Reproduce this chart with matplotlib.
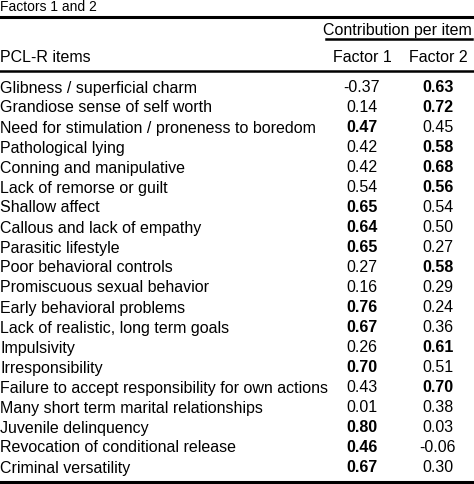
import matplotlib.pyplot as plt
from matplotlib import font_manager

items = [
    "Glibness / superficial charm",
    "Grandiose sense of self worth",
    "Need for stimulation / proneness to boredom",
    "Pathological lying",
    "Conning and manipulative",
    "Lack of remorse or guilt",
    "Shallow affect",
    "Callous and lack of empathy",
    "Parasitic lifestyle",
    "Poor behavioral controls",
    "Promiscuous sexual behavior",
    "Early behavioral problems",
    "Lack of realistic, long term goals",
    "Impulsivity",
    "Irresponsibility",
    "Failure to accept responsibility for own actions",
    "Many short term marital relationships",
    "Juvenile delinquency",
    "Revocation of conditional release",
    "Criminal versatility",
]
factor1 = ["-0.37", "0.14", "0.47", "0.42", "0.42", "0.54", "0.65", "0.64", "0.65", "0.27",
           "0.16", "0.76", "0.67", "0.26", "0.70", "0.43", "0.01", "0.80", "0.46", "0.67"]
factor2 = ["0.63", "0.72", "0.45", "0.58", "0.68", "0.56", "0.54", "0.50", "0.27", "0.58",
           "0.29", "0.24", "0.36", "0.61", "0.51", "0.70", "0.38", "0.03", "-0.06", "0.30"]
# which column is printed bold (0 = none)
bold_col = [2, 2, 1, 2, 2, 2, 1, 1, 1, 2, 0, 1, 1, 2, 1, 2, 0, 1, 1, 1]

names = {f.name for f in font_manager.fontManager.ttflist}
family = "Liberation Sans Narrow" if "Liberation Sans Narrow" in names else "Liberation Sans"
plt.rcParams['font.family'] = [family, 'DejaVu Sans']

fig = plt.figure(figsize=(4.74, 4.84), dpi=100)
ax = fig.add_axes([0, 0, 1, 1])
ax.set_xlim(0, 474)
ax.set_ylim(484, 0)
ax.axis('off')

fs = 11.5
ax.text(0, 7, "Factors 1 and 2", fontsize=10, va='center', ha='left')
ax.plot([0, 474], [17, 17], color='black', lw=2.2)
ax.text(472, 30, "Contribution per item", fontsize=fs, va='center', ha='right')
ax.plot([326, 472], [39, 39], color='black', lw=1.8)
ax.text(0, 57, "PCL-R items", fontsize=fs, va='center', ha='left')
ax.text(362, 57, "Factor 1", fontsize=fs, va='center', ha='center')
ax.text(438, 57, "Factor 2", fontsize=fs, va='center', ha='center')
ax.plot([0, 474], [71, 71], color='black', lw=1.8)

for i, name in enumerate(items):
    y = 88 + i * 20
    ax.text(0, y, name, fontsize=fs, va='center', ha='left')
    ax.text(362, y, factor1[i], fontsize=fs, va='center', ha='center',
            fontweight='bold' if bold_col[i] == 1 else 'normal')
    ax.text(438, y, factor2[i], fontsize=fs, va='center', ha='center',
            fontweight='bold' if bold_col[i] == 2 else 'normal')

ax.plot([0, 474], [482, 482], color='black', lw=2.2)
fig.savefig("out.png", dpi=100)
